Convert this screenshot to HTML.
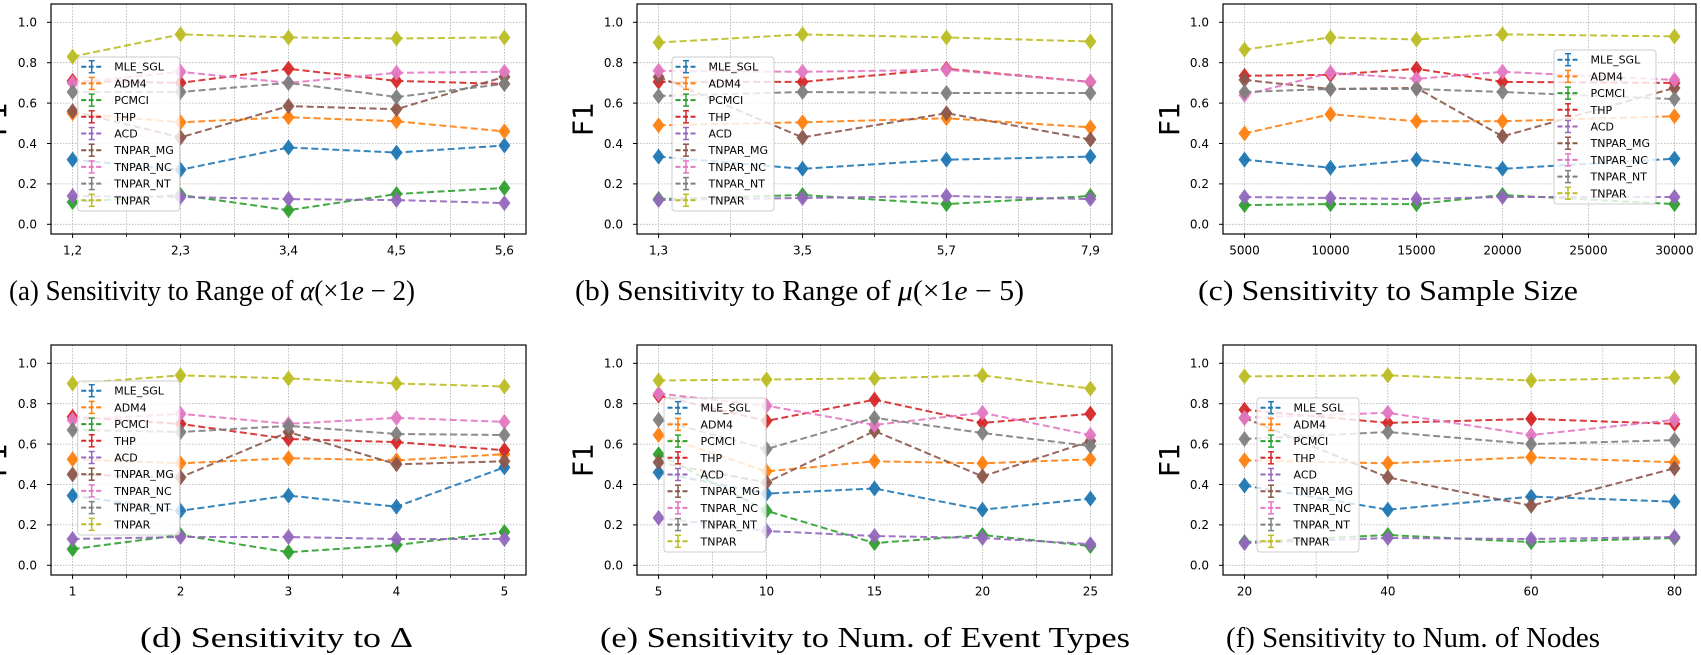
<!DOCTYPE html>
<html><head><meta charset="utf-8"><style>
html,body{margin:0;padding:0;background:#fff;}
svg{display:block;}
text{font-family:"DejaVu Sans","Liberation Sans",sans-serif;}
.cap{font-family:"Liberation Serif",serif;font-size:28px;fill:#000;}
</style></head><body>
<svg id="fig" width="1701" height="655" viewBox="0 0 1701 655" xmlns="http://www.w3.org/2000/svg"></svg>
<script>
const methods = ['MLE_SGL','ADM4','PCMCI','THP','ACD','TNPAR_MG','TNPAR_NC','TNPAR_NT','TNPAR'];
const colors = ['#1f77b4','#ff7f0e','#2ca02c','#d62728','#9467bd','#8c564b','#e377c2','#7f7f7f','#bcbd22'];

const xA = [0,1,2,3,4];
const ticksA = ['1,2','2,3','3,4','4,5','5,6'];
const valsA = [[.32,.27,.38,.355,.39],[.55,.505,.53,.51,.46],[.11,.145,.07,.15,.18],[.71,.70,.77,.71,.695],[.14,.135,.125,.12,.105],[.56,.43,.585,.57,.73],[.70,.755,.70,.75,.755],[.655,.655,.70,.63,.695],[.83,.94,.925,.92,.925]];

const xB = [0,1,2,3];
const ticksB = ['1,3','3,5','5,7','7,9'];
const valsB = [[.335,.275,.32,.335],[.49,.505,.525,.48],[.125,.145,.10,.14],[.705,.705,.77,.705],[.12,.13,.14,.125],[.73,.43,.55,.42],[.76,.755,.765,.705],[.635,.655,.65,.65],[.90,.94,.925,.905]];

const xC = [5000,10000,15000,20000,30000];
const ticksC = ['5000','10000','15000','20000','25000','30000'];
const valsC = [[.32,.28,.32,.275,.325],[.45,.545,.51,.51,.535],[.095,.10,.10,.145,.10],[.735,.74,.77,.705,.70],[.135,.13,.125,.135,.135],[.715,.67,.675,.435,.675],[.64,.75,.72,.755,.715],[.655,.67,.67,.655,.62],[.865,.925,.915,.94,.93]];

const xD = [1,2,3,4,5];
const ticksD = ['1','2','3','4','5'];
const valsD = [[.345,.27,.345,.29,.485],[.525,.505,.53,.52,.55],[.08,.15,.065,.10,.165],[.735,.70,.625,.61,.57],[.13,.14,.14,.13,.13],[.45,.435,.66,.50,.515],[.72,.75,.70,.73,.71],[.67,.66,.69,.65,.645],[.90,.94,.925,.90,.885]];

const xE = [5,10,15,20,25];
const ticksE = ['5','10','15','20','25'];
const valsE = [[.46,.355,.38,.275,.33],[.645,.465,.515,.505,.525],[.55,.27,.11,.15,.095],[.84,.715,.82,.705,.75],[.235,.17,.145,.135,.105],[.51,.41,.665,.44,.615],[.85,.79,.695,.755,.645],[.72,.575,.73,.655,.59],[.915,.92,.925,.94,.875]];

const xF = [20,40,60,80];
const ticksF = ['20','40','60','80'];
const valsF = [[.395,.275,.34,.315],[.52,.505,.535,.51],[.115,.15,.115,.135],[.77,.705,.725,.70],[.11,.135,.13,.14],[.73,.435,.295,.48],[.73,.755,.645,.72],[.625,.66,.60,.62],[.935,.94,.915,.93]];

const yTicks = [0,0.2,0.4,0.6,0.8,1.0];

const NS='http://www.w3.org/2000/svg';
const svg=document.getElementById('fig');
function mk(tag,attrs,parent){const e=document.createElementNS(NS,tag);for(const k in attrs)e.setAttribute(k,attrs[k]);(parent||svg).appendChild(e);return e;}

const panels=[
 {id:'a',L:51,T:4,R:526,B:234,x:xA,tv:xA,tl:ticksA,minor:[0.5,1.5,2.5,3.5],v:valsA,leg:[77.7,57],f1:-4},
 {id:'b',L:637,T:4,R:1112,B:234,x:xB,tv:xB,tl:ticksB,minor:[0.5,1.5,2.5],v:valsB,leg:[672,57],f1:582.5},
 {id:'c',L:1223,T:4,R:1696,B:234,x:xC,tv:[5000,10000,15000,20000,25000,30000],tl:ticksC,minor:[],v:valsC,leg:[1554,50],f1:1169},
 {id:'d',L:51,T:345,R:526,B:575,x:xD,tv:xD,tl:ticksD,minor:[1.5,2.5,3.5,4.5],v:valsD,leg:[77.7,381],f1:-4},
 {id:'e',L:637,T:345,R:1112,B:575,x:xE,tv:xE,tl:ticksE,minor:[7.5,12.5,17.5,22.5],v:valsE,leg:[664,398],f1:582.5},
 {id:'f',L:1223,T:345,R:1696,B:575,x:xF,tv:xF,tl:ticksF,minor:[30,50,70],v:valsF,leg:[1257,398],f1:1169}
];

panels.forEach(p=>{
 const g=mk('g',{});
 
 
 const xmin=Math.min(...p.x),xmax=Math.max(...p.x),rng=xmax-xmin;
 const X=v=>p.L+(v-(xmin-0.05*rng))/(1.1*rng)*(p.R-p.L);
 const y1=p.T+18.3,y0=p.T+220.3;
 const Y=v=>y0-(y0-y1)*v;
 p.tv.concat(p.minor).forEach(t=>{const l=mk('line',{x1:X(t),x2:X(t),y1:p.T,y2:p.B,stroke:'#b0b0b0','stroke-width':0.8,'stroke-dasharray':'1.5,1.5'},g);
  });
 yTicks.forEach(t=>{const l=mk('line',{x1:p.L,x2:p.R,y1:Y(t),y2:Y(t),stroke:'#b0b0b0','stroke-width':0.8,'stroke-dasharray':'1.5,1.5'},g);
  });
 p.v.forEach((vals,si)=>{
  const pts=vals.map((v,i)=>X(p.x[i]).toFixed(1)+','+Y(v).toFixed(1)).join(' ');
  const pl=mk('polyline',{points:pts,fill:'none',stroke:colors[si],'stroke-width':2,'stroke-dasharray':'7,3.5','stroke-opacity':0.9},g);
  
  
  vals.forEach((v,i)=>{const cx=X(p.x[i]),cy=Y(v);
   const d=mk('polygon',{points:`${cx},${cy-8} ${cx+6},${cy} ${cx},${cy+8} ${cx-6},${cy}`,fill:colors[si],'fill-opacity':0.95},g);
   
   });
 });
 const fr=mk('rect',{x:p.L,y:p.T,width:p.R-p.L,height:p.B-p.T,fill:'none',stroke:'#000','stroke-width':1.2},g);
 
 p.tv.forEach((t,i)=>{mk('line',{x1:X(t),x2:X(t),y1:p.B,y2:p.B+4,stroke:'#000','stroke-width':1},g);
  const tx=mk('text',{x:X(t),y:p.B+20.5,'text-anchor':'middle','font-size':12,fill:'#000'},g);tx.textContent=p.tl[i];
  });
 p.minor.forEach(t=>mk('line',{x1:X(t),x2:X(t),y1:p.B,y2:p.B+3,stroke:'#000','stroke-width':0.8},g));
 yTicks.forEach(t=>{mk('line',{x1:p.L-4,x2:p.L,y1:Y(t),y2:Y(t),stroke:'#000','stroke-width':1},g);
  const tx=mk('text',{x:p.L-14,y:Y(t)+4.3,'text-anchor':'end','font-size':12,fill:'#000'},g);tx.textContent=t.toFixed(1);
  });
 const cy=p.T+115;
 const f=mk('text',{x:p.f1,y:cy,'text-anchor':'middle','font-size':28,fill:'#000',transform:`rotate(-90 ${p.f1} ${cy}) translate(0 10)`},g);
 f.textContent='F1';
 const lg=mk('g',{},g);
 const [lx,ly]=p.leg;
 mk('rect',{x:lx,y:ly,width:102,height:154,rx:3,fill:'#fff','fill-opacity':0.8,stroke:'#cccccc','stroke-width':1},lg);
 methods.forEach((m,si)=>{const ey=ly+9.7+si*16.7;
  const e=mk('g',{},lg);
  mk('line',{x1:lx+3.5,x2:lx+24,y1:ey,y2:ey,stroke:colors[si],'stroke-width':2,'stroke-dasharray':'5,2.5'},e);
  mk('line',{x1:lx+14,x2:lx+14,y1:ey-6,y2:ey+6,stroke:colors[si],'stroke-width':1.5},e);
  mk('line',{x1:lx+11,x2:lx+17,y1:ey-6,y2:ey-6,stroke:colors[si],'stroke-width':1.5},e);
  mk('line',{x1:lx+11,x2:lx+17,y1:ey+6,y2:ey+6,stroke:colors[si],'stroke-width':1.5},e);
  const t=mk('text',{x:lx+36.5,y:ey+4,'font-size':11,fill:'#000'},e);t.textContent=m;});
});

const caps=[
 {x:9,w:406,y:300,parts:[['(a)  Sensitivity to Range of ',''],['α','italic'],['(×1',''],['e','italic'],[' − 2)','']]},
 {x:575,w:449,y:300,parts:[['(b)  Sensitivity to Range of ',''],['μ','italic'],['(×1',''],['e','italic'],[' − 5)','']]},
 {x:1198,w:380,y:300,parts:[['(c)  Sensitivity to Sample Size','']]},
 {x:140,w:273,y:647,parts:[['(d)  Sensitivity to Δ','']]},
 {x:600,w:530,y:647,parts:[['(e)  Sensitivity to Num. of Event Types','']]},
 {x:1226,w:374,y:647,parts:[['(f)  Sensitivity to Num. of Nodes','']]}
];
caps.forEach((c,i)=>{const t=mk('text',{x:c.x,y:c.y,class:'cap',textLength:c.w,lengthAdjust:'spacingAndGlyphs','xml:space':'preserve'});
 
 c.parts.forEach(pp=>{const s=mk('tspan',pp[1]?{'font-style':'italic'}:{},t);s.textContent=pp[0];});});
</script>
</body></html>
